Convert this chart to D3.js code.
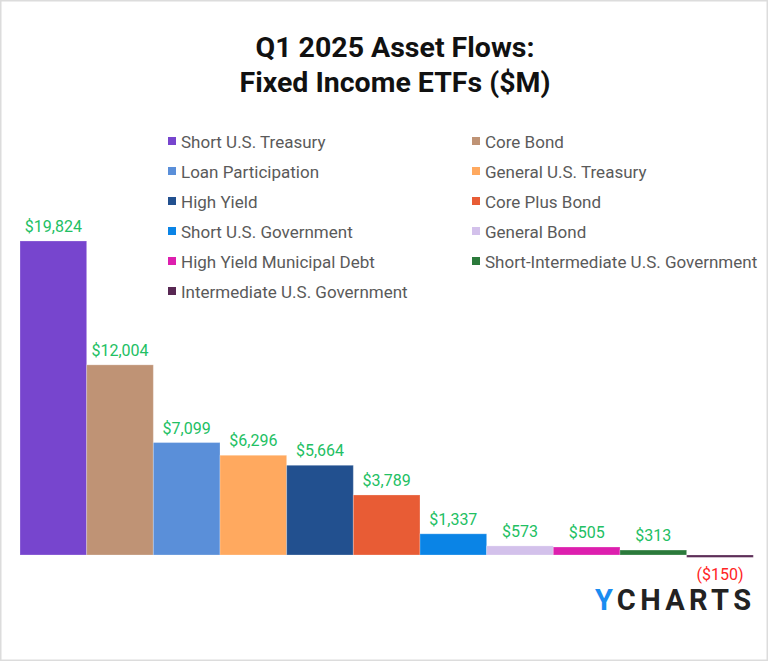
<!DOCTYPE html>
<html>
<head>
<meta charset="utf-8">
<script src="https://cdn.jsdelivr.net/npm/d3@7"></script>
<style>
  html, body { margin: 0; padding: 0; background: #fff; }
  svg { display: block; }
  text { font-family: Roboto, "Noto Sans", sans-serif; }
</style>
</head>
<body>
<script>
const categories = [
  "Short U.S. Treasury", "Core Bond", "Loan Participation", "General U.S. Treasury",
  "High Yield", "Core Plus Bond", "Short U.S. Government", "General Bond",
  "High Yield Municipal Debt", "Short-Intermediate U.S. Government", "Intermediate U.S. Government"
];
const flows = [19824, 12004, 7099, 6296, 5664, 3789, 1337, 573, 505, 313, -150];
const colors = [
  "#7745ce", "#bf9375", "#5a8fd9", "#ffa95f", "#22508f", "#e85c35",
  "#0a84e6", "#d3c1eb", "#dd1fae", "#2b7a3b", "#582853"
];
const titleLines = ["Q1 2025 Asset Flows:", "Fixed Income ETFs ($M)"];

const W = 768, H = 661;
const svg = d3.select("body").append("svg").attr("width", W).attr("height", H);

// frame
svg.append("rect").attr("x", 0.75).attr("y", 0.75).attr("width", W - 1.5).attr("height", H - 1.5)
  .attr("fill", "#fff").attr("stroke", "#dcdcdc").attr("stroke-width", 1.5);

// title
svg.append("g").selectAll("text").data(titleLines).join("text")
  .attr("x", 395).attr("y", (d, i) => 57 + i * 35)
  .attr("text-anchor", "middle").attr("font-size", 28.5).attr("font-weight", 700)
  .attr("fill", "#111").text(d => d);

// scales
const x = d3.scaleBand().domain(categories).range([20, 753.3]).padding(0);
const y = d3.scaleLinear().domain([0, 20000]).range([555, 238.2]);

// bars
svg.append("g").selectAll("rect").data(categories).join("rect")
  .attr("x", d => x(d))
  .attr("y", (d, i) => y(Math.max(0, flows[i])))
  .attr("width", x.bandwidth())
  .attr("height", (d, i) => Math.abs(y(flows[i]) - y(0)))
  .attr("fill", (d, i) => colors[i])
  .attr("stroke", "#fff").attr("stroke-opacity", 0.25).attr("stroke-width", 1);

const fmt = v => v < 0 ? "($" + d3.format(",")(-v) + ")" : "$" + d3.format(",")(v);

// value labels
svg.append("g").selectAll("text").data(categories).join("text")
  .attr("x", d => x(d) + x.bandwidth() / 2)
  .attr("y", (d, i) => flows[i] >= 0 ? y(flows[i]) - 9 : y(flows[i]) + 23)
  .attr("text-anchor", "middle").attr("font-size", 16)
  .attr("fill", (d, i) => flows[i] >= 0 ? "#22c063" : "#ff2424")
  .text((d, i) => fmt(flows[i]));

// legend (two columns, row-major)
const leg = svg.append("g").selectAll("g").data(categories).join("g")
  .attr("transform", (d, i) => `translate(${i % 2 === 0 ? 168 : 472},${141 + Math.floor(i / 2) * 30})`);
leg.append("rect").attr("x", 0).attr("y", -4).attr("width", 8).attr("height", 8)
  .attr("fill", (d, i) => colors[i]);
leg.append("text").attr("x", 13).attr("y", 6.5).attr("font-size", 17).attr("fill", "#5a5a5a")
  .text(d => d);

// logo
const logo = svg.append("text").attr("x", 595).attr("y", 610)
  .attr("font-size", 29).attr("font-weight", 700)
  .attr("textLength", 156).attr("lengthAdjust", "spacing");
logo.append("tspan").attr("fill", "#1a8cf0").text("Y");
logo.append("tspan").attr("fill", "#222").text("CHARTS");
</script>
</body>
</html>
